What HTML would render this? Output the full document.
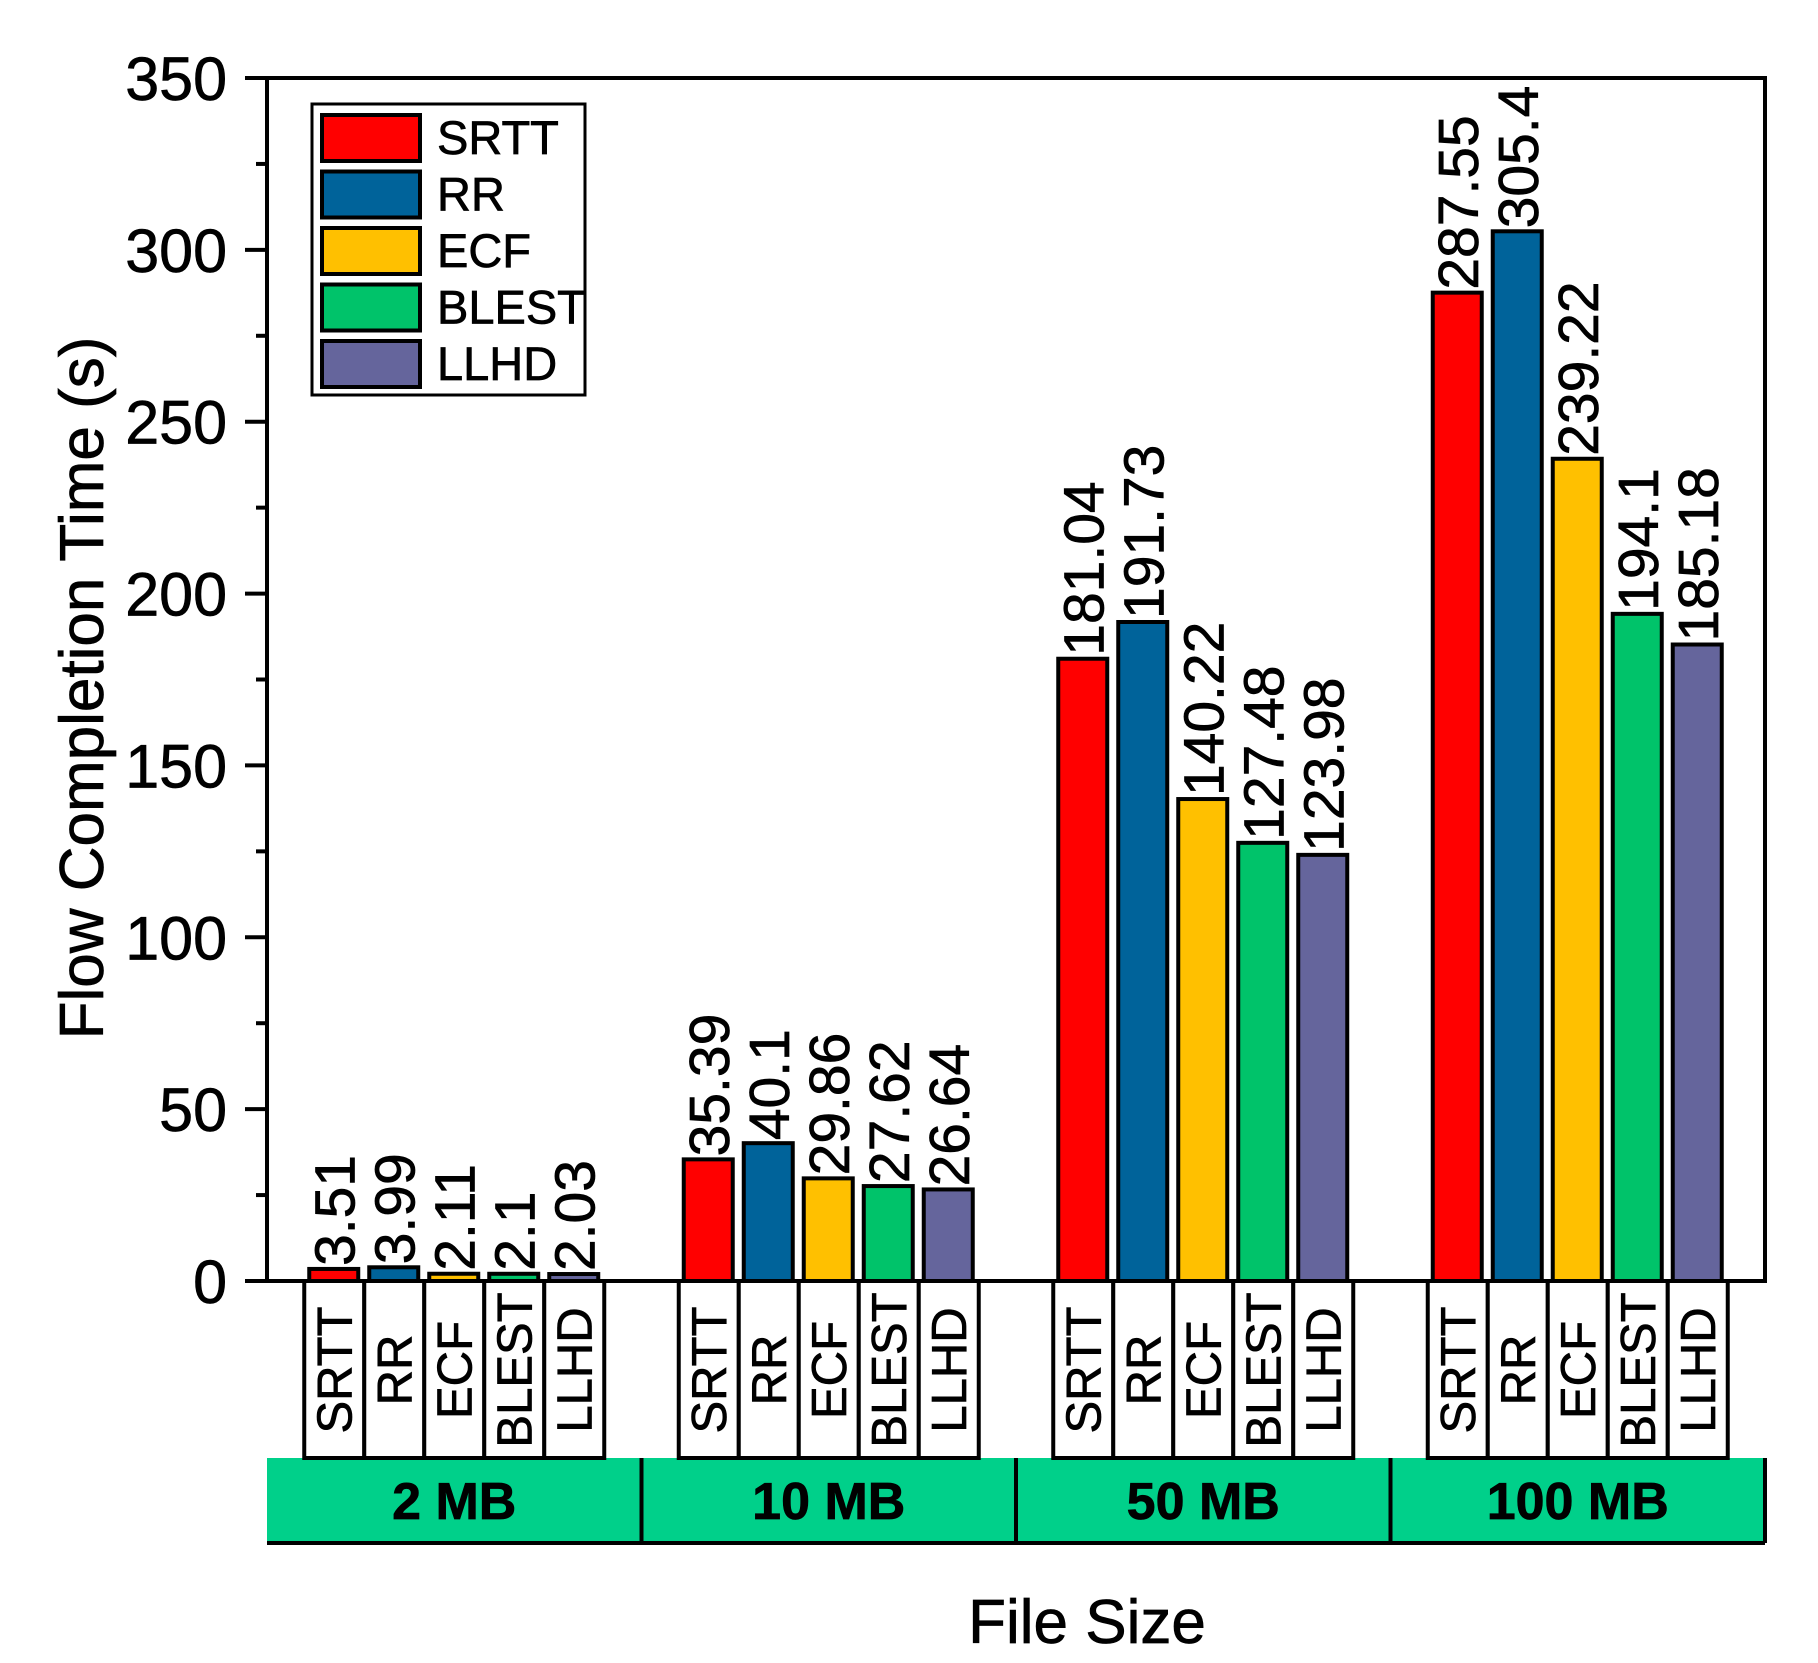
<!DOCTYPE html>
<html><head><style>body{margin:0;background:#fff}svg{display:block}text{font-family:"Liberation Sans",sans-serif;stroke:#000;stroke-width:0.7}</style></head>
<body>
<svg width="1818" height="1663" viewBox="0 0 1818 1663" xmlns="http://www.w3.org/2000/svg">
<g id="c"></g>
</svg>
<script>
const g=document.getElementById('c');
let h='';
const L=267,R=1765,T=78,Y0=1281,k=(Y0-T)/350;
const cols=['#ff0000','#00639a','#ffc000','#00c36a','#65659c'];
const names=['SRTT','RR','ECF','BLEST','LLHD'];
const data=[[3.51,3.99,2.11,2.1,2.03],[35.39,40.1,29.86,27.62,26.64],[181.04,191.73,140.22,127.48,123.98],[287.55,305.4,239.22,194.1,185.18]];
const grp=['2 MB','10 MB','50 MB','100 MB'];
const gw=(R-L)/4;
h+=`<rect x="${L}" y="1458" width="${R-L}" height="84" fill="#00d08a"/>`;
for(let i=1;i<4;i++)h+=`<line x1="${L+gw*i}" y1="1458" x2="${L+gw*i}" y2="1543" stroke="#000" stroke-width="4"/>`;
h+=`<line x1="${L}" y1="1543" x2="${R}" y2="1543" stroke="#000" stroke-width="4"/>`;
h+=`<line x1="${R}" y1="1458" x2="${R}" y2="1543" stroke="#000" stroke-width="4"/>`;
for(let gi=0;gi<4;gi++){
 const c=L+gw*gi+gw/2;
 h+=`<text x="${c}" y="1519" font-size="52" font-weight="bold" text-anchor="middle">${grp[gi]}</text>`;
 for(let i=0;i<5;i++){
  const bx=c-150+i*60;
  const v=data[gi][i],top=Y0-v*k;
  h+=`<rect x="${bx+5}" y="${top}" width="49" height="${Y0-top}" fill="${cols[i]}" stroke="#000" stroke-width="4"/>`;
  h+=`<text transform="translate(${bx+30+20},${top-3}) rotate(-90)" font-size="57">${v}</text>`;
  h+=`<rect x="${bx}" y="${Y0}" width="60" height="${1458-Y0}" fill="#fff" stroke="#000" stroke-width="4"/>`;
  h+=`<text transform="translate(${bx+30+17},1370) rotate(-90)" font-size="49" text-anchor="middle">${names[i]}</text>`;
 }
}
h+=`<rect x="${L}" y="${T}" width="${R-L}" height="${Y0-T}" fill="none" stroke="#000" stroke-width="4"/>`;
for(let v=0;v<=350;v+=25){
 const y=Y0-v*k;
 const major=v%50==0;
 h+=`<line x1="${L-(major?22:11)}" y1="${y}" x2="${L}" y2="${y}" stroke="#000" stroke-width="4"/>`;
 if(major)h+=`<text x="227" y="${y+22}" font-size="61" text-anchor="end">${v}</text>`;
}
h+=`<rect x="312" y="104" width="273" height="291" fill="#fff" stroke="#000" stroke-width="3"/>`;
for(let i=0;i<5;i++){
 const y=113+i*56.5;
 h+=`<rect x="322" y="${y+2}" width="98" height="46" fill="${cols[i]}" stroke="#000" stroke-width="4"/>`;
 h+=`<text x="437" y="${y+41}" font-size="47">${names[i]}</text>`;
}
h+=`<text x="1087" y="1643" font-size="62" text-anchor="middle">File Size</text>`;
h+=`<text transform="translate(103,688) rotate(-90)" font-size="62" text-anchor="middle">Flow Completion Time (s)</text>`;
g.innerHTML=h;
</script>
</body></html>
